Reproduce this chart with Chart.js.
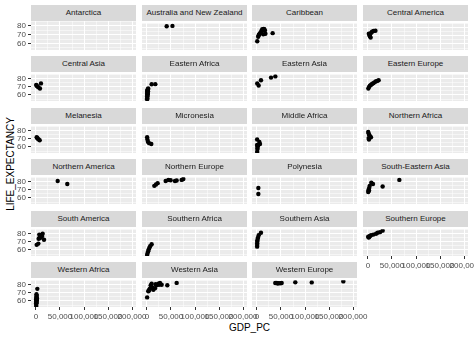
<!DOCTYPE html>
<html lang="en">
<head>
<meta charset="UTF-8">
<title>Life expectancy vs GDP per capita</title>
<script src="https://cdn.jsdelivr.net/npm/chart.js@4.4.0/dist/chart.umd.min.js"></script>
<style>
  body { margin: 0; background: #fff; font-family: "Liberation Sans", Arial, sans-serif; }
  #wrap { position: relative; width: 474px; height: 338px; overflow: hidden; }
  .strip {
    position: absolute; height: 16px; line-height: 16px;
    background: #D9D9D9; color: #1A1A1A; font-size: 8px;
    text-align: center; white-space: nowrap; overflow: hidden;
  }
  canvas { position: absolute; }
  .axis-title { position: absolute; color: #000; font-size: 10px; white-space: nowrap; }
</style>
</head>
<body>
<div id="wrap">
  <div class="axis-title" style="left:249.5px; top:322px; transform:translateX(-50%);">GDP_PC</div>
  <div class="axis-title" style="left:10px; top:164px; transform:translate(-50%,-50%) rotate(-90deg);">LIFE_EXPECTANCY</div>
</div>

<script>
// tick breaks
const xBreaks = [0, 50000, 100000, 150000, 200000];
const xMinor = [25000, 75000, 125000, 175000];
const yBreaks = [60, 70, 80];
const yMinor = [55, 65, 75, 85];

// points per region: [GDP_PC, LIFE_EXPECTANCY]
const antarctica = [];
const australiaNZ = [[41000, 81.8], [53000, 82.2]];
const caribbean = [[500, 63.3], [2500, 68.9], [3500, 70.7], [4500, 71.5], [5500, 72.6], [7000, 73.5], [8300, 74.4], [9500, 76.3], [11000, 78.1], [12500, 77.2], [14000, 78.5], [15300, 78.1], [16500, 76.5], [17500, 72.6], [13000, 71.8], [32600, 73.3]];
const centralAmerica = [[1800, 72.6], [3500, 70.7], [4000, 69.5], [5500, 67.8], [6900, 73.7], [8500, 75.2], [11500, 76], [15500, 76.3]];
const centralAsia = [[500, 72.4], [1400, 71.5], [2500, 70.6], [4900, 69.5], [8300, 68], [10400, 74.2]];
const easternAfrica = [[300, 54.7], [500, 56], [700, 57.5], [400, 58.5], [900, 59.5], [600, 60.5], [1200, 61], [800, 62], [1500, 62.5], [500, 63.5], [1000, 64], [2000, 64.5], [700, 65.5], [1300, 66], [1800, 67], [2500, 68], [9700, 73.1], [17300, 73.3]];
const easternAsia = [[500, 74.2], [3500, 71.7], [8300, 78], [29200, 81.3], [38200, 82.8]];
const easternEurope = [[700, 68], [2500, 70], [4000, 71.5], [6500, 72.5], [8500, 73.5], [11000, 74.5], [13500, 75.5], [16000, 76.5], [19000, 77.3], [22200, 78]];
const melanesia = [[1400, 72], [2800, 71], [3500, 70.3], [5500, 69.3], [7700, 68.3]];
const micronesia = [[300, 72], [900, 69.1], [2000, 66.5], [4500, 64.7], [9000, 63.6]];
const middleAfrica = [[300, 69.1], [4900, 66.1], [6200, 63.6], [200, 62.4], [1400, 60.9], [2500, 62], [800, 58.7], [400, 54.2], [1000, 57.5]];
const northernAfrica = [[500, 78.3], [1400, 76.4], [2800, 74.5], [4900, 72.8], [6200, 71.8], [1400, 70.9], [2000, 69.1]];
const northernAmerica = [[45200, 80.8], [65200, 77.1]];
const northernEurope = [[15300, 74.9], [18700, 76.5], [22200, 78.2], [38900, 80.8], [44400, 82.2], [49300, 81.8], [58300, 80.8], [61800, 81.5], [72200, 82.2], [75700, 83.3]];
const polynesia = [[2800, 72.2], [2800, 64.9]];
const seAsia = [[500, 67.4], [1400, 68.6], [2000, 69.5], [1400, 70.4], [2500, 72.2], [3500, 74.9], [6900, 78.6], [10400, 77.1], [30500, 74.1], [65300, 82.2]];
const southAmerica = [[1400, 66.3], [4900, 67.8], [5500, 73.7], [6900, 78.9], [7500, 74.5], [8300, 76.3], [9700, 75.2], [11100, 77.5], [11800, 78.1], [12500, 76.5], [13900, 80], [16700, 72.6]];
const southernAfrica = [[300, 54.1], [1500, 56.5], [2500, 58.5], [3500, 60.5], [5000, 62.5], [6500, 64.5], [9700, 67.1]];
const southernAsia = [[300, 64.1], [400, 66], [500, 67.8], [600, 70], [700, 71.5], [1500, 73.7], [2100, 75.2], [3500, 78.1], [8300, 81.1]];
const southernEurope = [[500, 76.3], [1400, 75.2], [2000, 76], [3000, 76.5], [4000, 77], [6200, 78.1], [11100, 78.9], [16700, 80], [20100, 81.1], [25000, 81.9], [30500, 83.7]];
const westernAfrica = [[2800, 74.9], [1000, 68.2], [1500, 66.5], [700, 65], [1200, 64], [2000, 63], [1300, 62.5], [500, 62], [900, 61.5], [1500, 60.8], [600, 60], [800, 59], [1100, 58], [400, 57.1], [700, 56.5], [500, 54.1]];
const westernAsia = [[300, 64.4], [2800, 71.9], [3500, 72.5], [4900, 73.8], [6000, 75], [7700, 79.3], [9700, 81.1], [11000, 76.5], [13200, 73.8], [16700, 75.6], [18000, 80.5], [20100, 79.3], [23600, 81.1], [25000, 80], [27100, 82.2], [30500, 80], [42300, 79.3], [61800, 82.2]];
const westernEurope = [[38100, 82], [41000, 82.2], [43000, 81.5], [45200, 81.9], [48500, 81.7], [51400, 82], [79800, 83], [114000, 82.8], [179800, 84]];

const facets = [
  ['Antarctica', antarctica], ['Australia and New Zealand', australiaNZ], ['Caribbean', caribbean], ['Central America', centralAmerica],
  ['Central Asia', centralAsia], ['Eastern Africa', easternAfrica], ['Eastern Asia', easternAsia], ['Eastern Europe', easternEurope],
  ['Melanesia', melanesia], ['Micronesia', micronesia], ['Middle Africa', middleAfrica], ['Northern Africa', northernAfrica],
  ['Northern America', northernAmerica], ['Northern Europe', northernEurope], ['Polynesia', polynesia], ['South-Eastern Asia', seAsia],
  ['South America', southAmerica], ['Southern Africa', southernAfrica], ['Southern Asia', southernAsia], ['Southern Europe', southernEurope],
  ['Western Africa', westernAfrica], ['Western Asia', westernAsia], ['Western Europe', westernEurope]
];

// layout of the facet grid (pixels)
const colLeft = [31, 142, 252, 363];
const rowTop = [21, 72, 124, 175, 227, 278];
const panelW = 105, panelH = 29, stripH = 16;
const yAxisW = 31, xAxisH = 16, padRight = 20;

const panelBg = {
  id: 'panelBg',
  beforeDraw(chart) {
    const { ctx, chartArea: a } = chart;
    ctx.save();
    ctx.fillStyle = '#EBEBEB';
    ctx.fillRect(a.left, a.top, a.right - a.left, a.bottom - a.top);
    ctx.restore();
  }
};

const wrap = document.getElementById('wrap');
const tickFont = { family: '"Liberation Sans", Arial, sans-serif', size: 8 };

function axis(breaks, minor, min, max, showLabels, fixSize) {
  return {
    type: 'linear', min: min, max: max,
    afterBuildTicks: s => { s.ticks = breaks.concat(minor).sort((a, b) => a - b).map(v => ({ value: v })); },
    afterFit: fixSize,
    border: { display: false },
    grid: {
      color: '#FFFFFF',
      lineWidth: c => breaks.includes(c.tick.value) ? 1 : 0.5,
      drawTicks: showLabels,
      tickLength: 3,
      tickWidth: 1,
      tickColor: c => breaks.includes(c.tick.value) ? '#333333' : 'rgba(0,0,0,0)'
    },
    ticks: {
      display: showLabels,
      autoSkip: false, maxRotation: 0, minRotation: 0,
      padding: 2,
      color: '#4D4D4D',
      font: tickFont,
      callback: v => breaks.includes(v) ? v.toLocaleString('en-US') : ''
    }
  };
}

facets.forEach(([name, pts], i) => {
  const col = i % 4, row = Math.floor(i / 4);
  const left = colLeft[col], top = rowTop[row];

  const strip = document.createElement('div');
  strip.className = 'strip';
  strip.textContent = name;
  strip.style.left = left + 'px';
  strip.style.top = (top - stripH) + 'px';
  strip.style.width = panelW + 'px';
  wrap.appendChild(strip);

  const cv = document.createElement('canvas');
  const w = yAxisW + panelW + padRight, h = panelH + xAxisH;
  cv.width = w; cv.height = h;
  cv.style.left = (left - yAxisW) + 'px';
  cv.style.top = top + 'px';
  cv.style.width = w + 'px';
  cv.style.height = h + 'px';
  wrap.appendChild(cv);

  const showY = col === 0;
  const showX = i + 4 >= facets.length;

  new Chart(cv, {
    type: 'scatter',
    data: {
      datasets: [{
        data: pts.map(p => ({ x: p[0], y: p[1] })),
        backgroundColor: '#000000',
        borderWidth: 0,
        pointRadius: 2.2,
        pointHoverRadius: 2.2
      }]
    },
    options: {
      responsive: false,
      devicePixelRatio: 1,
      animation: false,
      events: [],
      layout: { padding: { left: 0, top: 0, bottom: 0, right: padRight } },
      plugins: { legend: { display: false }, tooltip: { enabled: false } },
      scales: {
        x: axis(xBreaks, xMinor, -10400, 208300, showX, s => {
          s.height = xAxisH; s.paddingLeft = 0; s.paddingRight = 0;
        }),
        y: axis(yBreaks, yMinor, 52.6, 85.5, showY, s => {
          s.width = yAxisW; s.paddingTop = 0; s.paddingBottom = 0;
        })
      }
    },
    plugins: [panelBg]
  });
});
</script>
</body>
</html>
